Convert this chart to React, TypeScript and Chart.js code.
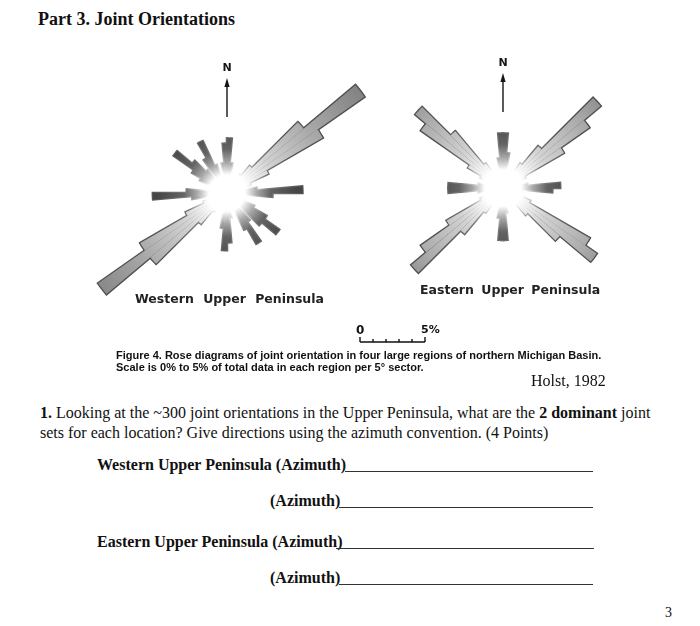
import React, { useEffect, useRef } from "react";
import { Chart, registerables } from "chart.js";
Chart.register(...registerables);

// 72 sectors of 5° each, azimuth clockwise from north; value = % of data per sector
const sectorLabels = [
  "0","5","10","15","20","25","30","35","40","45","50","55","60","65","70","75","80","85",
  "90","95","100","105","110","115","120","125","130","135","140","145","150","155","160","165","170","175",
  "180","185","190","195","200","205","210","215","220","225","230","235","240","245","250","255","260","265",
  "270","275","280","285","290","295","300","305","310","315","320","325","330","335","340","345","350","355",
];

const westernPct = [
  4.2, 2.3, 1.2, 1.2, 1.2, 1.2, 1.4, 1.7, 2.7, 7.7, 12.9, 8.5, 3.5, 1.9, 1.4, 1.2, 2.3, 5.8,
  3.5, 1.5, 1.2, 1.2, 1.5, 2.3, 3.5, 4.9, 3.5, 1.5, 2.7, 4.5, 3.1, 1.4, 1.2, 1.2, 1.9, 3.8,
  4.4, 2.7, 1.2, 1.2, 1.2, 1.2, 1.4, 1.7, 3.1, 7.7, 12.1, 7.7, 3.5, 1.9, 1.4, 1.2, 2.7, 5.7,
  3.1, 1.5, 1.2, 1.2, 1.4, 2.3, 3.1, 5.0, 3.5, 2.3, 1.4, 3.1, 4.4, 2.3, 1.2, 1.2, 2.3, 3.8,
];

const easternPct = [
  4.2, 2.7, 1.2, 1.2, 1.2, 1.2, 1.2, 2.3, 4.2, 9.8, 8.1, 5.4, 1.9, 1.2, 1.2, 1.2, 1.9, 4.4,
  3.8, 1.5, 1.2, 1.2, 1.2, 2.3, 7.7, 8.8, 5.7, 2.7, 1.2, 1.2, 1.2, 1.2, 1.2, 1.2, 1.9, 4.0,
  4.0, 2.3, 1.2, 1.2, 1.2, 1.2, 1.2, 2.3, 4.6, 9.2, 7.7, 5.0, 1.9, 1.2, 1.2, 1.2, 1.9, 4.2,
  4.2, 1.9, 1.2, 1.2, 1.2, 1.9, 3.1, 7.7, 8.8, 5.7, 2.3, 1.2, 1.2, 1.2, 1.2, 1.2, 2.3, 4.2,
];

const PX_PER_PCT = 13;

const LONG_STOPS: [number, string][] = [
  [0, "#ffffff"], [20, "#ffffff"], [50, "#d2d2d2"], [100, "#ababab"], [175, "#7e7e7e"],
];
const SHORT_STOPS: [number, string][] = [
  [0, "#ffffff"], [18, "#ffffff"], [30, "#a8a8a8"], [44, "#636363"], [70, "#454545"],
];
const EDGE_STOPS: [number, string][] = [
  [0, "#ffffff"], [20, "#ffffff"], [42, "#777777"], [80, "#505050"], [180, "#505050"],
];

function radialFill(chart: any, stops: [number, string][]) {
  const s = chart.scales && chart.scales.r;
  if (!s || !s.drawingArea) return "#888";
  const R = s.drawingArea;
  const g = chart.ctx.createRadialGradient(s.xCenter, s.yCenter, 0, s.xCenter, s.yCenter, R);
  stops.forEach(([px, c]) => g.addColorStop(Math.min(px / R, 1), c));
  return g;
}

function petalPeak(values: number[], i: number) {
  let m = 0;
  for (let k = -2; k <= 2; k++) m = Math.max(m, values[(i + k + 72) % 72]);
  return m;
}

const northPlugin = {
  id: "northArrow",
  afterDraw(chart: any) {
    const s = chart.scales.r;
    const ctx = chart.ctx;
    const cx = s.xCenter;
    const cy = s.yCenter;
    ctx.save();
    ctx.strokeStyle = "#151515";
    ctx.lineWidth = 1.4;
    ctx.beginPath();
    ctx.moveTo(cx, cy - 76);
    ctx.lineTo(cx, cy - 108);
    ctx.stroke();
    ctx.fillStyle = "#151515";
    ctx.beginPath();
    ctx.moveTo(cx, cy - 115);
    ctx.lineTo(cx - 2.6, cy - 106);
    ctx.lineTo(cx + 2.6, cy - 106);
    ctx.closePath();
    ctx.fill();
    ctx.font = 'bold 11px "DejaVu Sans"';
    ctx.textAlign = "center";
    ctx.textBaseline = "middle";
    ctx.fillText("N", cx, cy - 125);
    ctx.restore();
  },
};

function RoseChart({ values, size, left, top }: { values: number[]; size: number; left: number; top: number }) {
  const ref = useRef<HTMLCanvasElement | null>(null);
  useEffect(() => {
    if (!ref.current) return;
    const max = size / 2 / PX_PER_PCT;
    const chart = new Chart(ref.current, {
      type: "polarArea",
      data: {
        labels: sectorLabels,
        datasets: [
          {
            data: values,
            borderWidth: 0,
            backgroundColor: (c: any) => {
              if (c.type !== "data") return "#888";
              return radialFill(c.chart, petalPeak(values, c.dataIndex) > 6 ? LONG_STOPS : SHORT_STOPS);
            },
          },
          {
            data: values,
            borderWidth: 2.6,
            borderJoinStyle: "miter",
            borderColor: (c: any) => radialFill(c.chart, EDGE_STOPS),
            backgroundColor: (c: any) => radialFill(c.chart, EDGE_STOPS),
          },
        ],
      },
      options: {
        responsive: false,
        animation: false,
        devicePixelRatio: 1,
        layout: { padding: 0 },
        plugins: { legend: { display: false }, tooltip: { enabled: false } },
        scales: {
          r: {
            min: 0,
            max,
            startAngle: 0,
            ticks: { display: false },
            grid: { display: false },
            angleLines: { display: false },
            pointLabels: { display: false },
          },
        },
      } as any,
      plugins: [northPlugin],
    });
    return () => chart.destroy();
  }, [values, size]);
  return (
    <canvas
      ref={ref}
      width={size}
      height={size}
      style={{ position: "absolute", left, top, width: size, height: size }}
    />
  );
}

const serif = '"Liberation Serif", "Times New Roman", serif';
const sans = '"Liberation Sans", Arial, sans-serif';
const label = '"DejaVu Sans", sans-serif';

function T({ x, y, size, children, style }: any) {
  return (
    <div
      style={{
        position: "absolute",
        left: x,
        top: y - size * 0.58,
        fontSize: size,
        lineHeight: `${size}px`,
        whiteSpace: "nowrap",
        color: "#111",
        ...style,
      }}
    >
      {children}
    </div>
  );
}

function Rule({ x1, x2, y }: { x1: number; x2: number; y: number }) {
  return <div style={{ position: "absolute", left: x1, top: y, width: x2 - x1, height: 1, background: "#333" }} />;
}

export default function App() {
  return (
    <div style={{ position: "absolute", left: 0, top: 0, width: 700, height: 626, background: "#fff", overflow: "hidden" }}>
      <T x={38} y={20} size={18} style={{ fontFamily: serif, fontWeight: "bold" }}>Part 3. Joint Orientations</T>

      <RoseChart values={westernPct} size={360} left={47} top={13} />
      <RoseChart values={easternPct} size={300} left={353} top={38} />

      <T x={135} y={300} size={12.5} style={{ fontFamily: label, fontWeight: "bold", wordSpacing: 5, color: "#222" }}>Western Upper Peninsula</T>
      <T x={420} y={291} size={12.5} style={{ fontFamily: label, fontWeight: "bold", wordSpacing: 3, color: "#222" }}>Eastern Upper Peninsula</T>

      <T x={356} y={331} size={12} style={{ fontFamily: label, fontWeight: "bold" }}>0</T>
      <T x={421} y={330} size={11} style={{ fontFamily: label, fontWeight: "bold" }}>5%</T>
      <svg style={{ position: "absolute", left: 355, top: 334, overflow: "visible" }} width={80} height={12}>
        <line x1={5} y1={8} x2={70} y2={8} stroke="#111" strokeWidth={1.6} />
        {[0, 1, 2, 3, 4, 5].map((k) => (
          <line key={k} x1={5 + k * 13} y1={8} x2={5 + k * 13} y2={k === 0 || k === 5 ? 3 : 5} stroke="#111" strokeWidth={1.4} />
        ))}
      </svg>

      <T x={116} y={356} size={11} style={{ fontFamily: sans, fontWeight: "bold" }}>
        Figure 4. Rose diagrams of joint orientation in four large regions of northern Michigan Basin.
      </T>
      <T x={116} y={368} size={11} style={{ fontFamily: sans, fontWeight: "bold" }}>
        Scale is 0% to 5% of total data in each region per 5° sector.
      </T>
      <T x={531} y={382} size={16} style={{ fontFamily: serif }}>Holst, 1982</T>

      <T x={40} y={414} size={16} style={{ fontFamily: serif }}>
        <b>1.</b> Looking at the ~300 joint orientations in the Upper Peninsula, what are the <b>2 dominant</b> joint
      </T>
      <T x={40} y={434} size={16} style={{ fontFamily: serif }}>
        sets for each location? Give directions using the azimuth convention. (4 Points)
      </T>

      <T x={97} y={466} size={16} style={{ fontFamily: serif, fontWeight: "bold" }}>Western Upper Peninsula (Azimuth)</T>
      <Rule x1={345} x2={593} y={471} />
      <T x={270} y={502} size={16} style={{ fontFamily: serif, fontWeight: "bold" }}>(Azimuth)</T>
      <Rule x1={339} x2={593} y={507} />
      <T x={97} y={543} size={16} style={{ fontFamily: serif, fontWeight: "bold" }}>Eastern Upper Peninsula (Azimuth)</T>
      <Rule x1={336} x2={594} y={548} />
      <T x={270} y={579} size={16} style={{ fontFamily: serif, fontWeight: "bold" }}>(Azimuth)</T>
      <Rule x1={339} x2={593} y={584} />

      <T x={665} y={614} size={14} style={{ fontFamily: serif }}>3</T>
    </div>
  );
}
